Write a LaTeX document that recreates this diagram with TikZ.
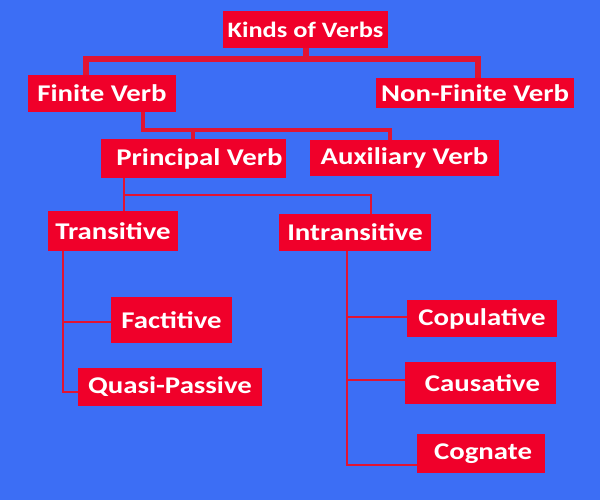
\documentclass[tikz,border=0pt]{standalone}
\usepackage{fontspec}
\setmainfont{Carlito}[Ligatures=Common,FakeStretch=1.2]
\definecolor{bgblue}{RGB}{60,110,245}
\definecolor{boxred}{RGB}{240,0,42}
\definecolor{linered}{RGB}{225,20,50}
\begin{document}
\begin{tikzpicture}[x=1pt,y=-1pt,
  box/.style={fill=boxred,draw=none,text=white,inner sep=0pt,anchor=center,
    font=\fontsize{24}{24}\selectfont\bfseries},
  busA/.style={draw=linered,line width=6pt},
  busB/.style={draw=linered,line width=4pt},
  busC/.style={draw=linered,line width=2.5pt},
]
\fill[bgblue] (0,0) rectangle (600,500);
\useasboundingbox (0,0) rectangle (600,500);
% nodes
\node[box,minimum width=165pt,minimum height=37pt,font=\fontsize{22}{22}\selectfont\bfseries] (kinds) at (305.5,29.5) {Kinds of Verbs};
\node[box,minimum width=148pt,minimum height=37pt] (finite) at (102,93.5) {Finite Verb};
\node[box,minimum width=198pt,minimum height=30pt] (nonfinite) at (475,93) {Non-Finite Verb};
\node[box,minimum width=185pt,minimum height=39pt] (principal) at (193.5,158.5) {\hspace*{12pt}Principal Verb};
\node[box,minimum width=189pt,minimum height=36pt] (auxiliary) at (404.5,158) {Auxiliary Verb};
\node[box,minimum width=130pt,minimum height=40pt] (transitive) at (113,231) {Transitive};
\node[box,minimum width=152pt,minimum height=37pt] (intransitive) at (355,232.5) {Intransitive};
\node[box,minimum width=121pt,minimum height=46pt] (factitive) at (171.5,320) {Factitive};
\node[box,minimum width=184pt,minimum height=38pt] (quasi) at (170,387) {Quasi-Passive};
\node[box,minimum width=150pt,minimum height=37pt] (copulative) at (482,318.5) {Copulative};
\node[box,minimum width=151pt,minimum height=42pt] (causative) at (480.5,383) {\hspace*{4pt}Causative};
\node[box,minimum width=128pt,minimum height=39pt] (cognate) at (481,453.5) {\hspace*{4pt}Cognate};
% level 1
\coordinate (aL) at (86,59);
\coordinate (aR) at (478,59);
\draw[busA] (kinds.south) -- (kinds.south |- aL);
\draw[busA] (aL |- finite.north) -- (aL) -- (aR) -- (aR |- nonfinite.north);
% level 2
\coordinate (bL) at (143,130);
\coordinate (bM) at (193,130);
\coordinate (bR) at (390,130);
\draw[busB] (bL |- finite.south) -- (bL) -- (bR) -- (bR |- auxiliary.north);
\draw[busB] (bM) -- (bM |- principal.north);
% level 3
\coordinate (cL) at (124,195);
\coordinate (cR) at (371,195);
\draw[busC] (cL |- principal.south) -- (cL |- transitive.north);
\draw[busC] (cL) -- (cR) -- (cR |- intransitive.north);
% transitive branch
\coordinate (tF) at (63,322);
\coordinate (tQ) at (63,392);
\draw[busC] (tF |- transitive.south) -- (tQ) -- (tQ -| quasi.west);
\draw[busC] (tF) -- (tF -| factitive.west);
% intransitive branch
\coordinate (iA) at (347,317);
\coordinate (iB) at (347,380);
\draw[busC] (iA |- intransitive.south) -- (347,465) coordinate (iC) -- (iC -| cognate.west);
\draw[busC] (iA) -- (iA -| copulative.west);
\draw[busC] (iB) -- (iB -| causative.west);
\end{tikzpicture}
\end{document}
